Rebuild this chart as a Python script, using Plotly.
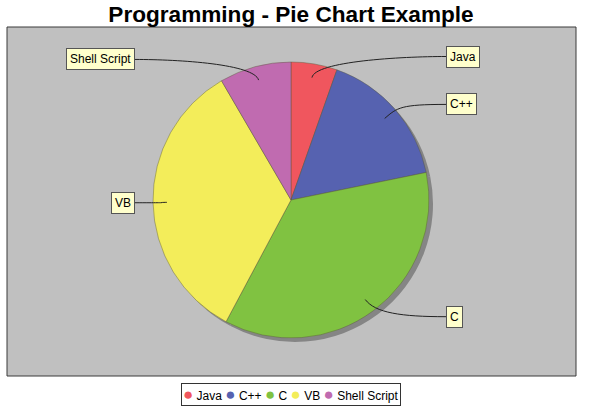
import math
import plotly.graph_objects as go

# data
languages = ['Java', 'C++', 'C', 'VB', 'Shell Script']
shares = [5.4, 16.4, 36.0, 33.8, 8.4]
colors = ['#F0565E', '#5662B0', '#80C241', '#F3ED5A', '#C06BB0']

W, H = 589, 418
cx, cy, r = 291, 200, 138   # pie centre / radius in pixels


def px(x):
    return x / W


def py(y):
    return 1 - y / H


dom_x = [px(cx - r), px(cx + r)]
dom_y = [py(cy + r), py(cy - r)]
sh = 4  # shadow offset
shadow_x = [px(cx - r + sh), px(cx + r + sh)]
shadow_y = [py(cy + r + sh), py(cy - r + sh)]

fig = go.Figure()

# drop shadow of the pie
fig.add_trace(go.Pie(
    values=shares, labels=languages, sort=False, direction='clockwise',
    domain=dict(x=shadow_x, y=shadow_y),
    marker=dict(colors=['#858585'] * len(shares), line=dict(width=0)),
    textinfo='none', hoverinfo='skip', showlegend=False,
))

fig.add_trace(go.Pie(
    values=shares, labels=languages, sort=False, direction='clockwise',
    domain=dict(x=dom_x, y=dom_y),
    marker=dict(colors=colors, line=dict(color='rgba(90,90,60,0.55)', width=0.8)),
    textinfo='none', showlegend=False,
))

# callout labels with curved links
annotations = []
shapes = [dict(type='rect', xref='paper', yref='paper',
               x0=px(7), x1=px(576), y0=py(376), y1=py(27),
               fillcolor='#C0C0C0', line=dict(color='#3a3a3a', width=1),
               layer='below')]

total = sum(shares)
cum = 0
for name, v in zip(languages, shares):
    mid = (cum + v / 2) / total * 2 * math.pi
    cum += v
    s, c = math.sin(mid), math.cos(mid)
    ax, ay = cx + 0.9 * r * s, cy - 0.9 * r * c
    ly = cy - 1.055 * r * c
    right = s >= 0
    lx = cx + 155 if right else cx - 156
    c1x, c1y = cx + 1.02 * r * s, cy - 1.02 * r * c
    c2x = lx - 45 if right else lx + 45
    path = 'M {},{} C {},{} {},{} {},{}'.format(
        px(ax), py(ay), px(c1x), py(c1y), px(c2x), py(ly), px(lx), py(ly))
    shapes.append(dict(type='path', xref='paper', yref='paper', path=path,
                       line=dict(color='#222222', width=1), layer='above'))
    annotations.append(dict(
        xref='paper', yref='paper', x=px(lx), y=py(ly),
        xanchor='left' if right else 'right', yanchor='middle',
        showarrow=False, text=name, borderpad=3, borderwidth=1,
        bgcolor='#FFFFCC', bordercolor='#555555',
        font=dict(family='Liberation Sans, Arial', size=12, color='#000000')))

# legend drawn as one boxed line of coloured dots
legend_text = ' '.join(
    '<span style="color:{};font-size:17px">●</span> {}'.format(col, name)
    for name, col in zip(languages, colors))
annotations.append(dict(
    xref='paper', yref='paper', x=px(291), y=py(394.5), xanchor='center', yanchor='middle',
    showarrow=False, text=legend_text, bgcolor='white', bordercolor='#333333',
    borderwidth=1, borderpad=1, font=dict(family='Liberation Sans, Arial', size=12, color='black'),
))

fig.update_layout(
    width=W, height=H,
    margin=dict(l=0, r=0, t=0, b=0),
    paper_bgcolor='white',
    title=dict(text='<b>Programming - Pie Chart Example</b>', x=px(291), y=py(14),
               xanchor='center', yanchor='middle',
               font=dict(family='Liberation Sans, Arial', size=22.6, color='black')),
    shapes=shapes,
    annotations=annotations,
    showlegend=False,
)

fig.write_html('out.html', config={'displayModeBar': False},
               post_script="document.body.style.margin='0';")
